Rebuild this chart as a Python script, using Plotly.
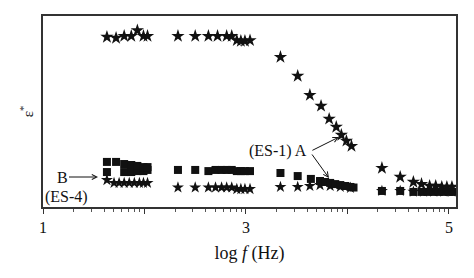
import plotly.graph_objects as go

# ---- data (x as log10 f, y as relative epsilon* units) ----
logf_A = [1.63, 1.72, 1.80, 1.87, 1.93, 1.99, 2.03,
          2.33, 2.50, 2.63, 2.72, 2.81, 2.86,
          2.91, 2.95, 2.99, 3.04,
          3.34, 3.51, 3.63, 3.74, 3.82, 3.89, 3.94, 3.99, 4.04,
          4.34, 4.52, 4.65, 4.73, 4.81, 4.87, 4.93, 4.98, 5.03]
eps_A = [89.0, 88.5, 89.5, 89.5, 92.4, 89.5, 89.5,
         89.5, 89.5, 89.5, 89.5, 89.5, 89.5,
         87.2, 86.9, 86.9, 87.2,
         78.5, 68.6, 58.6, 52.9, 46.1, 41.9, 37.7, 34.6, 31.9,
         20.4, 15.7, 13.1, 12.0, 11.0, 11.0, 10.5, 10.5, 10.5]

logf_B_star = [1.63, 1.70, 1.75, 1.80, 1.85, 1.90, 1.95, 1.99, 2.03,
               2.33, 2.50, 2.63, 2.70, 2.76, 2.81, 2.86, 2.91, 2.95, 2.99, 3.04,
               3.34, 3.51, 3.63, 3.73, 3.83, 3.93, 4.03,
               4.34, 4.52, 4.65, 4.75, 4.85, 4.95, 5.03]
eps_B_star = [14.1, 12.6, 12.6, 12.6, 12.6, 12.6, 12.6, 12.6, 12.6,
              10.2, 10.2, 10.2, 10.2, 10.2, 10.2, 10.2, 9.4, 9.4, 9.4, 9.4,
              10.5, 10.5, 11.0, 11.5, 11.0, 10.5, 10.0,
              8.4, 8.4, 8.0, 8.0, 8.0, 8.0, 8.0]

logf_sq_upper = [1.63, 1.72, 1.80, 1.87, 1.93, 1.99, 2.03,
                 2.33, 2.50, 2.63, 2.70, 2.76, 2.81, 2.86, 2.91, 2.95, 2.99, 3.04,
                 3.34, 3.51, 3.64, 3.73, 3.78, 3.83, 3.88, 3.93, 3.98, 4.03, 4.06,
                 4.34, 4.52, 4.65, 4.73, 4.79, 4.85, 4.90, 4.95, 5.00, 5.05]
eps_sq_upper = [23.6, 23.6, 22.5, 22.0, 21.5, 20.9, 20.9,
                19.4, 19.4, 18.8, 19.4, 19.4, 19.4, 19.4, 18.8, 18.8, 18.8, 18.8,
                17.8, 16.2, 14.7, 13.6, 13.1, 12.6, 12.0, 11.5, 11.0, 10.5, 10.2,
                8.4, 8.4, 7.9, 7.9, 7.9, 7.9, 7.9, 7.9, 7.9, 7.9]

logf_sq_lower = [1.63, 1.80, 1.87, 1.93, 1.99, 2.03]
eps_sq_lower = [18.3, 18.3, 18.3, 18.8, 18.8, 19.4]

tick_exponents = [1, 2, 3, 4, 5]
tick_labels = ["1", "", "3", "", "5"]

FONT = "Liberation Serif"
INK = "#111111"

def f(vals):
    return [10 ** v for v in vals]

fig = go.Figure()
fig.add_trace(go.Scatter(x=f(logf_B_star), y=eps_B_star, mode="markers",
                         marker=dict(symbol="star", size=9, color=INK, line=dict(width=0)),
                         showlegend=False))
fig.add_trace(go.Scatter(x=f(logf_sq_lower), y=eps_sq_lower, mode="markers",
                         marker=dict(symbol="square", size=8, color=INK, line=dict(width=0)),
                         showlegend=False))
fig.add_trace(go.Scatter(x=f(logf_sq_upper), y=eps_sq_upper, mode="markers",
                         marker=dict(symbol="square", size=8, color=INK, line=dict(width=0)),
                         showlegend=False))
fig.add_trace(go.Scatter(x=f(logf_A), y=eps_A, mode="markers",
                         marker=dict(symbol="star", size=10, color=INK, line=dict(width=0)),
                         showlegend=False))

txt = dict(family=FONT, size=16, color=INK)
# B arrow
fig.add_annotation(x=1.542, y=15.7, xref="x", yref="y", text="B", font=txt,
                   showarrow=True, ax=-36, ay=0, arrowhead=5, arrowsize=1,
                   arrowwidth=1, arrowcolor=INK, standoff=0)
fig.add_annotation(x=1.227, y=5.2, xref="x", yref="y", text="(ES-4)", font=txt,
                   showarrow=False)
# ES-1 A label and arrows
fig.add_annotation(x=3.315, y=29.3, xref="x", yref="y", text="(ES-1) A", font=txt,
                   showarrow=False)
fig.add_annotation(x=3.916, y=36.6, xref="x", yref="y", text="",
                   showarrow=True, ax=-28, ay=14, arrowhead=5, arrowsize=1,
                   arrowwidth=1, arrowcolor=INK, standoff=0)
fig.add_annotation(x=3.818, y=15.2, xref="x", yref="y", text="",
                   showarrow=True, ax=-18, ay=-25, arrowhead=5, arrowsize=1,
                   arrowwidth=1, arrowcolor=INK, standoff=0)

fig.update_layout(
    width=474, height=278,
    margin=dict(l=43, r=18, t=16, b=71),
    paper_bgcolor="white", plot_bgcolor="white",
    font=dict(family=FONT, color=INK),
    xaxis=dict(
        type="log", range=[1, 5.07],
        tickmode="array",
        tickvals=[10 ** e for e in tick_exponents],
        ticktext=tick_labels,
        ticks="outside", ticklen=5, tickwidth=1, tickcolor="#333",
        tickfont=dict(family=FONT, size=16, color=INK),
        minor=dict(ticks="outside", ticklen=3, tickwidth=1, tickcolor="#555", dtick="D1", showgrid=False),
        showgrid=False, zeroline=False,
        showline=True, linecolor="#333", linewidth=1.5, mirror=True,
        title=dict(text="log <i>f</i> (Hz)", font=dict(family=FONT, size=18, color=INK), standoff=11),
    ),
    yaxis=dict(
        range=[0, 100],
        showticklabels=False, ticks="",
        showgrid=False, zeroline=False,
        showline=True, linecolor="#333", linewidth=1.5, mirror=True,
        title=dict(text="ε<sup>*</sup>", font=dict(family=FONT, size=15, color=INK), standoff=4),
    ),
)

fig.write_html("out.html")
